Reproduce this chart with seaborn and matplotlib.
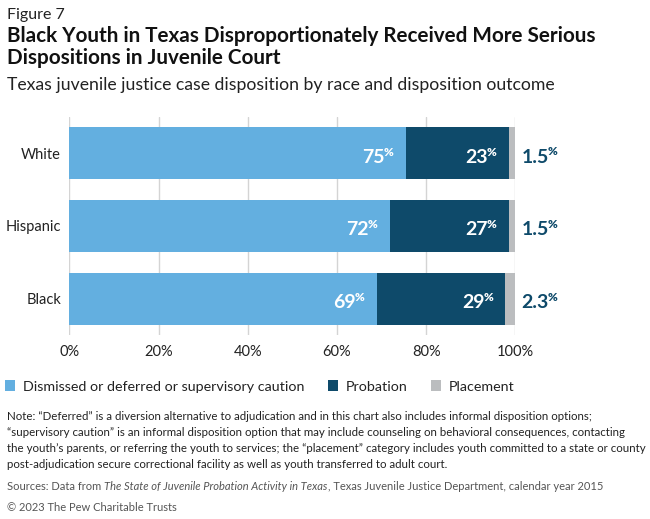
import matplotlib
matplotlib.use('Agg')
import matplotlib.pyplot as plt
import seaborn as sns
import pandas as pd
from matplotlib.patches import Patch
from matplotlib.text import Annotation

races = ['White', 'Hispanic', 'Black']
dismissed = [75.4, 71.8, 68.9]
probation = [23.1, 26.7, 28.8]
placement = [1.5, 1.5, 2.3]
dismissed_labels = ['75', '72', '69']
probation_labels = ['23', '27', '29']
placement_labels = ['1.5', '1.5', '2.3']
xticks = [0, 20, 40, 60, 80, 100]
series_names = ['Dismissed or deferred or supervisory caution', 'Probation', 'Placement']

sns.set_theme(style='white')
plt.rcParams['font.family'] = ['Lato', 'DejaVu Sans']

C_LIGHT = '#63afe0'
C_DARK = '#0e4a6a'
C_GREY = '#bbbdbf'
TXT = '#222222'
SRC = '#555555'

df = pd.DataFrame({'race': races, 'd': dismissed, 'p': probation, 'pl': placement})
df['cum_p'] = df['d'] + df['p']
df['cum_pl'] = df['cum_p'] + df['pl']

W, H = 650, 519
fig = plt.figure(figsize=(W / 100, H / 100), dpi=100)
ax = fig.add_axes([69.3 / W, 1 - 335 / H, (515.3 - 69.3) / W, 218 / H])

for col, c in [('cum_pl', C_GREY), ('cum_p', C_DARK), ('d', C_LIGHT)]:
    sns.barplot(data=df, x=col, y='race', order=races, color=c, saturation=1,
                width=0.72, orient='h', ax=ax, errorbar=None, linewidth=0, zorder=2)

ax.set_xlim(0, 100)
ax.set_xticks(xticks)
ax.set_xticklabels([f'{v}%' for v in xticks])
ax.set_xlabel('')
ax.set_ylabel('')
ax.grid(axis='x', color='#d4d4d4', lw=1, zorder=0)
ax.set_axisbelow(True)
for s in ax.spines.values():
    s.set_visible(False)
ax.tick_params(axis='x', length=0, pad=7, labelsize=10.5, labelcolor=TXT)
ax.tick_params(axis='y', length=0, pad=6, labelsize=10.5, labelcolor=TXT)

NUM_FS = 14
PCT_FS = 8.5
BASE = -6.7   # digit baseline offset from bar centre (pt)
RAISE = 5.0   # superscript raise (pt)
D_PCT = 0.18 * PCT_FS
D_NUM = 0.18 * NUM_FS


def inside_label(x_end, i, s):
    pct = ax.annotate('%', xy=(x_end, i), xytext=(-8.5, BASE + RAISE), textcoords='offset points',
                      ha='right', va='baseline', fontsize=PCT_FS, fontweight='heavy', color='white',
                      annotation_clip=False, zorder=5)
    ax.annotate(s, xy=(0, 0), xycoords=pct, xytext=(0.6, D_PCT - RAISE), textcoords='offset points',
                ha='right', va='baseline', fontsize=NUM_FS, fontweight='bold', color='white',
                annotation_clip=False, zorder=5)


def outside_label(i, s):
    num = ax.annotate(s, xy=(100, i), xytext=(4.4, BASE), textcoords='offset points',
                      ha='left', va='baseline', fontsize=NUM_FS, fontweight='bold', color=C_DARK,
                      annotation_clip=False)
    ax.annotate('%', xy=(1, 0), xycoords=num, xytext=(-0.6, D_NUM + RAISE), textcoords='offset points',
                ha='left', va='baseline', fontsize=PCT_FS, fontweight='heavy', color=C_DARK,
                annotation_clip=False)


for i in range(len(races)):
    inside_label(dismissed[i], i, dismissed_labels[i])
    inside_label(dismissed[i] + probation[i], i, probation_labels[i])
    outside_label(i, placement_labels[i])

# Titles
fig.text(7 / W, 1 - 19 / H, 'Figure 7', fontsize=11.5, color=TXT, ha='left', va='baseline')
fig.text(7 / W, 1 - 42 / H, 'Black Youth in Texas Disproportionately Received More Serious',
         fontsize=14.82, fontweight='bold', color='#111111', ha='left', va='baseline')
fig.text(7 / W, 1 - 64 / H, 'Dispositions in Juvenile Court',
         fontsize=14.82, fontweight='bold', color='#111111', ha='left', va='baseline')
fig.text(7 / W, 1 - 90 / H, 'Texas juvenile justice case disposition by race and disposition outcome',
         fontsize=12.7, color=TXT, ha='left', va='baseline')

# Legend
handles = [Patch(facecolor=c, edgecolor='none') for c in (C_LIGHT, C_DARK, C_GREY)]
fig.legend(handles, series_names, loc='center left', bbox_to_anchor=(5 / W, 1 - 386.5 / H),
           ncol=3, frameon=False, fontsize=10.3, handlelength=0.7, handleheight=0.7,
           handletextpad=0.56, columnspacing=1.64, borderaxespad=0, borderpad=0,
           labelcolor=TXT)

NOTE_FS = 8.3
SRC_FS = 8.05
note = ('Note: \u201cDeferred\u201d is a diversion alternative to adjudication and in this chart also includes informal disposition options;\n'
        '\u201csupervisory caution\u201d is an informal disposition option that may include counseling on behavioral consequences, contacting\n'
        'the youth\u2019s parents, or referring the youth to services; the \u201cplacement\u201d category includes youth committed to a state or county\n'
        'post-adjudication secure correctional facility as well as youth transferred to adult court.')
fig.text(7 / W, 1 - 411 / H, note, fontsize=NOTE_FS, color=TXT, ha='left', va='top', linespacing=1.55)
src = fig.text(7 / W, 1 - 490 / H, 'Sources: Data from ', fontsize=SRC_FS, color=SRC, ha='left', va='baseline')
a2 = fig.add_artist(Annotation('The State of Juvenile Probation Activity in Texas', xy=(1, 0), xycoords=src,
                               va='bottom', ha='left', fontsize=SRC_FS, color=SRC, style='italic'))
fig.add_artist(Annotation(', Texas Juvenile Justice Department, calendar year 2015', xy=(1, 0), xycoords=a2,
                          va='bottom', ha='left', fontsize=SRC_FS, color=SRC))
fig.text(7 / W, 1 - 511 / H, '\u00a9 2023 The Pew Charitable Trusts', fontsize=SRC_FS, color=SRC,
         ha='left', va='baseline')

fig.savefig('out.png', dpi=100)
